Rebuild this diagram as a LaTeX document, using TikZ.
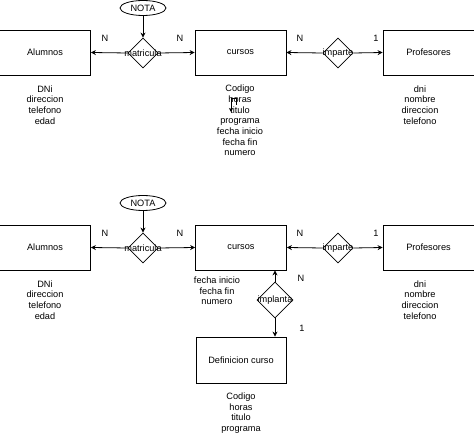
\documentclass[tikz,border=0pt]{standalone}
\usepackage{fontspec}
\setmainfont{Liberation Sans}
\usetikzlibrary{shapes.geometric,arrows.meta}
\begin{document}
\begin{tikzpicture}[x=1pt,y=-1pt,
  every node/.style={font=\fontsize{9.2}{10.7}\selectfont, text=black},
  entity/.style={draw, line width=0.8pt, minimum width=91pt, minimum height=45pt, inner sep=0pt},
  rel/.style={draw, diamond, line width=0.8pt, inner sep=0pt, aspect=1, minimum width=30pt, minimum height=30pt},
  attrib/.style={ellipse, draw, line width=0.8pt, inner sep=0pt, minimum width=46pt, minimum height=15pt},
  txt/.style={align=center, inner sep=0pt},
  conn/.style={line width=0.8pt, -{Stealth[length=5pt,width=5pt]}}
]
\useasboundingbox (0,0) rectangle (474,435);

% ---------- top diagram ----------
\node[entity] (alu1) at (45,52.5) {Alumnos};
\node[entity] (cur1) at (240.5,52.5) {cursos};
\node[entity] (pro1) at (428.5,52.5) {Profesores};
\node[rel, label={center:matricula}] (mat1) at (143,53) {};
\node[rel, label={center:imparte}] (imp1) at (338,53) {};
\node[attrib] (nota1) at (143,8) {NOTA};

\draw[conn] (nota1.south) -- (mat1.north);
\draw[conn] (mat1.west) -- (alu1.east);
\draw[conn] (mat1.east) -- (cur1.west);
\draw[conn] (imp1.west) -- (cur1.east);
\draw[conn] (imp1.east) -- (pro1.west);

\node (n1) at (105,38) {N};
\node (n2) at (180,38) {N};
\node (n3) at (300,38) {N};
\node (o1) at (376,38) {1};

\node[txt] (aa1) at (45,105) {DNi\\direccion\\telefono\\edad};
\node[txt] (ca1) at (240,120.5) {Codigo\\horas\\titulo\\programa\\fecha inicio\\fecha fin\\numero};
\node[txt] (pa1) at (420,105) {dni\\nombre\\direccion\\telefono};

\coordinate (s1) at (236,105);
\coordinate (s2) at (236,98);
\coordinate (s3) at (231,98);
\coordinate (s4) at (231,112);
\draw[line width=0.8pt, -{Stealth[length=4pt,width=4pt]}] (s1) -- (s2) -- (s3) -- (s4);

% ---------- bottom diagram ----------
\node[entity] (alu2) at (45,247.5) {Alumnos};
\node[entity] (cur2) at (241,247.5) {cursos};
\node[entity] (pro2) at (428.5,247.5) {Profesores};
\node[rel, label={center:matricula}] (mat2) at (143,248) {};
\node[rel, label={center:imparte}] (imp2) at (338,248) {};
\node[attrib] (nota2) at (143,203) {NOTA};
\node[rel, minimum width=36pt, minimum height=36pt, label={center:implanta}] (impl) at (275,300) {};
\node[entity, minimum width=90pt, minimum height=46pt] (def) at (241,360) {Definicion curso};

\draw[conn] (nota2.south) -- (mat2.north);
\draw[conn] (mat2.west) -- (alu2.east);
\draw[conn] (mat2.east) -- (cur2.west);
\draw[conn] (imp2.west) -- (cur2.east);
\draw[conn] (imp2.east) -- (pro2.west);
\draw[conn] (impl.north) -- (impl.north |- cur2.south);
\draw[conn] (impl.south) -- (impl.south |- def.north);

\node (n4) at (105,233) {N};
\node (n5) at (180,233) {N};
\node (n6) at (300,233) {N};
\node (o2) at (376,233) {1};
\node (n7) at (301,278) {N};
\node (o3) at (302,328) {1};

\node[txt] (aa2) at (45,300) {DNi\\direccion\\telefono\\edad};
\node[txt] (ca2) at (217,291) {fecha inicio\\fecha fin\\numero};
\node[txt] (pa2) at (420,300) {dni\\nombre\\direccion\\telefono};
\node[txt] (da) at (241,413) {Codigo\\horas\\titulo\\programa};
\end{tikzpicture}
\end{document}
